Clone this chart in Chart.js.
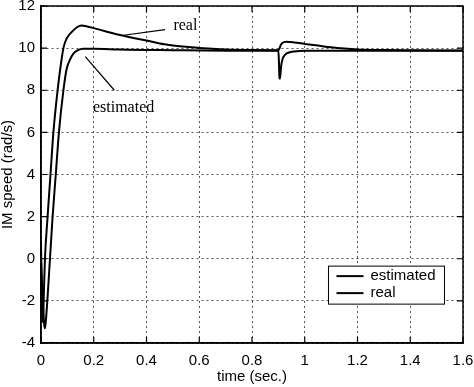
<!DOCTYPE html>
<html>
<head>
<meta charset="utf-8">
<script src="https://cdn.jsdelivr.net/npm/chart.js@4/dist/chart.umd.min.js"></script>
<style>
  html, body { margin: 0; padding: 0; background: #fff; }
  canvas { display: block; }
</style>
</head>
<body>
<canvas id="chart" width="474" height="387"></canvas>
<script>
// values
const tReal = [0, 0.002, 0.005, 0.0075, 0.01, 0.015, 0.025, 0.036, 0.047, 0.063, 0.075, 0.085, 0.097, 0.116, 0.135, 0.154, 0.175, 0.2, 0.25, 0.3, 0.35, 0.4, 0.45, 0.5, 0.55, 0.6, 0.65, 0.7, 0.8, 0.9, 0.903, 0.908, 0.915, 0.93, 0.96, 1.0, 1.05, 1.1, 1.15, 1.2, 1.3, 1.4, 1.6]
const vReal = [0.8, -1, -2.9, -3.0, -2, 0, 2, 4, 6, 8, 9.2, 10, 10.45, 10.76, 10.98, 11.07, 11.03, 10.95, 10.78, 10.62, 10.48, 10.36, 10.22, 10.13, 10.06, 10.01, 9.97, 9.94, 9.91, 9.9, 9.95, 10.12, 10.24, 10.3, 10.27, 10.2, 10.12, 10.04, 9.98, 9.94, 9.91, 9.9, 9.89]
const tEst = [0, 0.006, 0.012, 0.015, 0.018, 0.024, 0.034, 0.044, 0.056, 0.068, 0.085, 0.097, 0.11, 0.122, 0.14, 0.16, 0.2, 0.3, 0.5, 0.7, 0.9, 0.902, 0.904, 0.906, 0.91, 0.915, 0.925, 0.94, 0.96, 1.0, 1.2, 1.4, 1.6]
const vEst = [0, -1.8, -3.1, -3.3, -3.0, -2, 0, 2, 4, 6, 8, 9, 9.45, 9.73, 9.9, 9.97, 9.97, 9.93, 9.9, 9.88, 9.87, 9.4, 8.6, 8.55, 9.1, 9.45, 9.68, 9.79, 9.84, 9.87, 9.87, 9.87, 9.87]
const xTicks = [0, 0.2, 0.4, 0.6, 0.8, 1, 1.2, 1.4, 1.6]
const yTicks = [-4, -2, 0, 2, 4, 6, 8, 10, 12]
const seriesNames = ['estimated', 'real']

const SANS = '"Liberation Sans", Arial, sans-serif'
const SERIF = '"Liberation Serif", "Times New Roman", serif'

const pts = (ts, vs) => ts.map((t, i) => ({ x: t, y: vs[i] }))

const frame = {
  id: 'frame',
  afterDraw(chart) {
    const { ctx, chartArea: a, scales: { x, y } } = chart
    ctx.save()
    ctx.strokeStyle = '#000'
    ctx.lineWidth = 1.5
    ctx.setLineDash([])
    ctx.strokeRect(a.left, a.top, a.right - a.left, a.bottom - a.top)

    // inward tick marks on all four sides
    ctx.lineWidth = 1.2
    ctx.beginPath()
    xTicks.forEach(v => {
      const px = x.getPixelForValue(v)
      ctx.moveTo(px, a.bottom); ctx.lineTo(px, a.bottom - 6)
      ctx.moveTo(px, a.top); ctx.lineTo(px, a.top + 6)
    })
    yTicks.forEach(v => {
      const py = y.getPixelForValue(v)
      ctx.moveTo(a.left, py); ctx.lineTo(a.left + 6, py)
      ctx.moveTo(a.right, py); ctx.lineTo(a.right - 6, py)
    })
    ctx.stroke()

    // axis titles
    ctx.fillStyle = '#000'
    ctx.font = '15px ' + SANS
    ctx.textAlign = 'center'
    ctx.textBaseline = 'middle'
    ctx.fillText('time (sec.)', (a.left + a.right) / 2, 377)
    ctx.save()
    ctx.translate(8, (a.top + a.bottom) / 2)
    ctx.rotate(-Math.PI / 2)
    ctx.fillText('IM speed (rad/s)', 0, 0)
    ctx.restore()

    // annotations with leader lines
    ctx.lineWidth = 1.2
    ctx.beginPath()
    ctx.moveTo(x.getPixelForValue(0.307), y.getPixelForValue(10.6))
    ctx.lineTo(x.getPixelForValue(0.47), y.getPixelForValue(10.88))
    ctx.moveTo(x.getPixelForValue(0.168), y.getPixelForValue(9.6))
    ctx.lineTo(x.getPixelForValue(0.278), y.getPixelForValue(8.0))
    ctx.stroke()
    ctx.font = '16px ' + SERIF
    ctx.textAlign = 'left'
    ctx.fillText('real', x.getPixelForValue(0.502), y.getPixelForValue(11.05))
    ctx.fillText('estimated', x.getPixelForValue(0.197), y.getPixelForValue(7.15))

    // legend box
    const lx = x.getPixelForValue(1.09), ly = y.getPixelForValue(-0.35)
    const lw = 116, lh = 38
    ctx.fillStyle = '#fff'
    ctx.fillRect(lx, ly, lw, lh)
    ctx.lineWidth = 1
    ctx.strokeStyle = '#000'
    ctx.strokeRect(lx, ly, lw, lh)
    ctx.font = '15px ' + SANS
    ctx.fillStyle = '#000'
    seriesNames.forEach((name, i) => {
      const ry = ly + 10 + i * 17
      ctx.lineWidth = 2
      ctx.beginPath()
      ctx.moveTo(lx + 8, ry); ctx.lineTo(lx + 35, ry)
      ctx.stroke()
      ctx.fillText(name, lx + 42, ry)
    })
    ctx.restore()
  }
}

new Chart(document.getElementById('chart'), {
  type: 'line',
  data: {
    datasets: [
      { label: seriesNames[0], data: pts(tEst, vEst), borderColor: '#000', borderWidth: 2, pointRadius: 0, cubicInterpolationMode: 'monotone' },
      { label: seriesNames[1], data: pts(tReal, vReal), borderColor: '#000', borderWidth: 2, pointRadius: 0, cubicInterpolationMode: 'monotone' },
    ],
  },
  options: {
    responsive: false,
    animation: false,
    layout: { padding: { top: 6, right: 11, left: 0, bottom: 0 } },
    plugins: { legend: { display: false }, tooltip: { enabled: false } },
    scales: {
      x: {
        type: 'linear', min: 0, max: 1.6,
        afterFit: s => { s.height = 44; s.paddingLeft = 0; s.paddingRight = 0 },
        afterBuildTicks: s => { s.ticks = xTicks.map(v => ({ value: v })) },
        ticks: { color: '#000', font: { size: 15, family: SANS }, padding: 9, maxRotation: 0, callback: v => String(v) },
        grid: { color: '#555', lineWidth: 1, drawTicks: false },
        border: { display: true, color: '#000', width: 1.5, dash: [2, 3] },
      },
      y: {
        type: 'linear', min: -4, max: 12,
        afterFit: s => { s.width = 41; s.paddingTop = 0; s.paddingBottom = 0 },
        afterBuildTicks: s => { s.ticks = yTicks.map(v => ({ value: v })) },
        ticks: { color: '#000', font: { size: 15, family: SANS }, padding: 6, callback: v => String(v) },
        grid: { color: '#555', lineWidth: 1, drawTicks: false },
        border: { display: true, color: '#000', width: 1.5, dash: [2, 3] },
      },
    },
  },
  plugins: [frame],
})
</script>
</body>
</html>
